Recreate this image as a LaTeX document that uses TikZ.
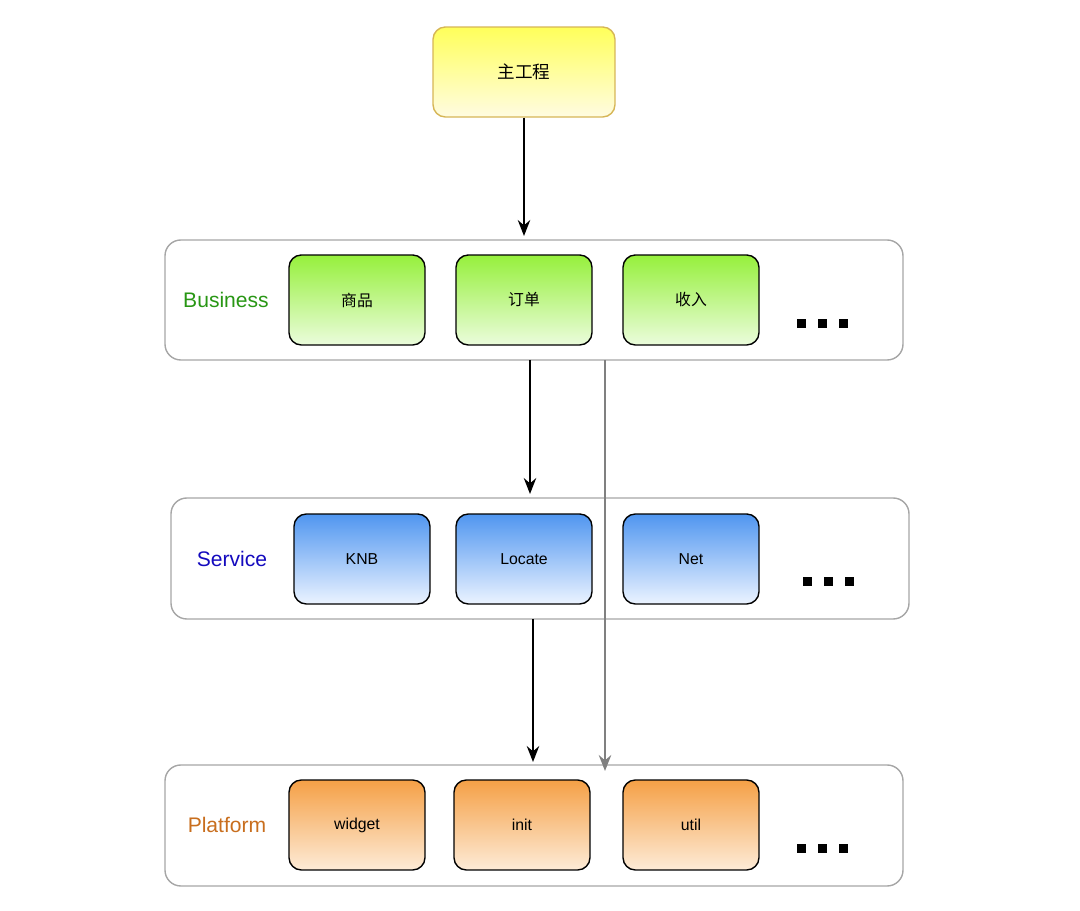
\documentclass[tikz,border=0pt]{standalone}
\usepackage{fontspec}
\setmainfont{Liberation Sans}
\newfontfamily\cjk{Noto Sans CJK SC}
\usetikzlibrary{arrows.meta}
\definecolor{ygold}{RGB}{214,182,86}
\definecolor{grnbiz}{RGB}{40,150,20}
\definecolor{bluesvc}{RGB}{20,10,190}
\definecolor{orgplat}{RGB}{200,110,30}
\begin{document}
\begin{tikzpicture}[x=0.02cm, y=-0.02cm]
  \tikzstyle{layer}=[draw=black!35, rounded corners=9pt, line width=0.8pt]
  \tikzstyle{module}=[draw=black, rounded corners=7pt, line width=0.8pt, minimum width=2.72cm, minimum height=1.8cm, font=\small]
  \tikzstyle{green}=[module, top color={rgb,255:red,150;green,240;blue,60}, bottom color={rgb,255:red,235;green,252;blue,220}]
  \tikzstyle{blue}=[module, top color={rgb,255:red,80;green,150;blue,240}, bottom color={rgb,255:red,235;green,243;blue,255}]
  \tikzstyle{orange}=[module, top color={rgb,255:red,245;green,160;blue,70}, bottom color={rgb,255:red,253;green,235;blue,215}]
  \tikzstyle{dot}=[fill=black, minimum size=0.18cm, inner sep=0pt]
  \tikzstyle{link}=[-{Stealth[length=9pt, width=7pt]}, line width=1.4pt]

  \useasboundingbox (0, 0) rectangle (1080, 911);

  % main project
  \node[draw=ygold, rounded corners=7pt, line width=0.8pt, minimum width=3.64cm, minimum height=1.8cm,
        top color={rgb,255:red,255;green,255;blue,90}, bottom color={rgb,255:red,255;green,252;blue,225}]
    (main) at (524, 72) {\cjk 主工程};

  % business layer
  \draw[layer] (165, 240) rectangle (903, 360);
  \node[text=grnbiz, font=\large] (biz) at (226, 300) {Business};
  \node[green] (goods) at (357, 300) {\cjk 商品};
  \node[green] (order) at (524, 300) {\cjk 订单};
  \node[green] (income) at (691, 300) {\cjk 收入};

  % service layer
  \draw[layer] (171, 498) rectangle (909, 619);
  \node[text=bluesvc, font=\large] (svc) at (232, 559) {Service};
  \node[blue] (knb) at (362, 559) {KNB};
  \node[blue] (locate) at (524, 559) {Locate};
  \node[blue] (net) at (691, 559) {Net};

  % platform layer
  \draw[layer] (165, 765) rectangle (903, 886);
  \node[text=orgplat, font=\large] (plat) at (227, 825) {Platform};
  \node[orange] (widget) at (357, 825) {widget};
  \node[orange] (init) at (522, 825) {init};
  \node[orange] (util) at (691, 825) {util};

  % more modules
  \foreach \i/\x in {0/801, 1/822, 2/843} {
    \node[dot] (bizdot\i) at (\x, 324) {};
    \node[dot] (svcdot\i) at (\x+6, 582) {};
    \node[dot] (platdot\i) at (\x, 849) {};
  }

  % dependencies
  \coordinate (bizin) at (524, 236);
  \coordinate (bizout) at (530, 360);
  \coordinate (svcin) at (530, 494);
  \coordinate (svcout) at (533, 619);
  \coordinate (platin) at (533, 762);
  \coordinate (skipout) at (605, 360);
  \coordinate (skipin) at (605, 771);
  \draw[link] (main) -- (bizin);
  \draw[link] (bizout) -- (svcin);
  \draw[link] (svcout) -- (platin);
  \draw[link, black!50, line width=1.6pt] (skipout) -- (skipin);
\end{tikzpicture}
\end{document}
